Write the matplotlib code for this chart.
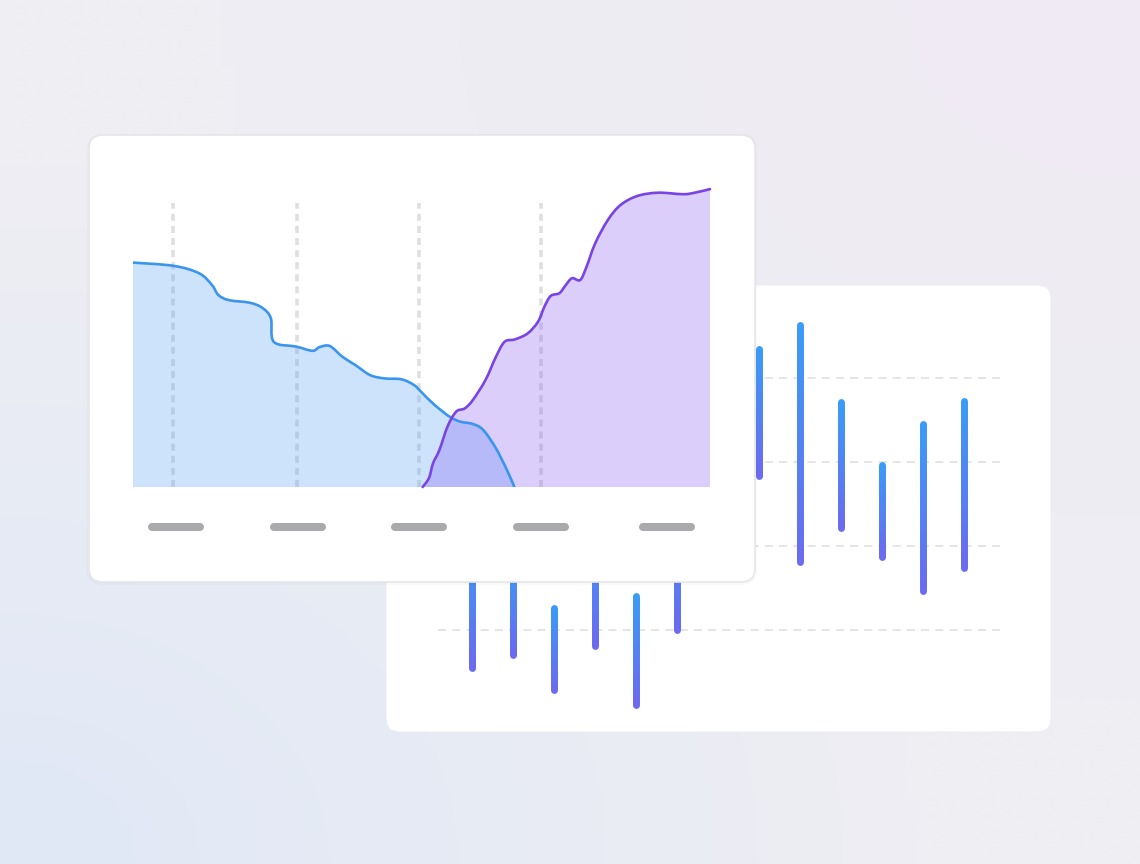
"""Two overlapping dashboard cards: area chart in front, range bars behind."""
import matplotlib

matplotlib.use("Agg")
import matplotlib.pyplot as plt
import numpy as np
from matplotlib.collections import LineCollection
from matplotlib.colors import to_rgb
from matplotlib.patches import FancyBboxPatch, PathPatch
from matplotlib.path import Path

W, H = 1140, 864

# front card: two area series on a 0-100 x scale, 0-100 y scale
blue_x = [0, 7.1, 11.5, 13.7, 14.8, 16.6, 20.3, 22.5, 23.9, 24.4, 28.3, 31.1,
          32.3, 34.1, 36.3, 38.5, 41.1, 43.6, 46.5, 48.7, 50.2, 52.3, 54.9,
          56.7, 58.9, 60.7, 62.9, 64.8, 66.1]
blue_y = [74.8, 73.7, 71.2, 67.3, 64.0, 62.3, 61.4, 59.6, 56.2, 48.4, 46.8, 45.4,
          46.6, 47.0, 43.4, 40.7, 37.3, 36.2, 35.9, 34.0, 31.2, 27.3, 23.4,
          21.8, 21.0, 19.0, 12.9, 5.7, 0]
purple_x = [50.2, 51.3, 52.0, 53.1, 54.5, 56.0, 57.5, 58.9, 61.1, 62.9, 64.4,
            66.2, 68.4, 70.2, 71.3, 72.4, 73.9, 75.0, 76.1, 77.5, 78.6, 80.1,
            82.3, 84.5, 87.4, 91.0, 95.4, 97.6, 100]
purple_y = [0, 3.0, 7.9, 12.3, 20.1, 25.1, 26.2, 29.0, 35.7, 43.4, 48.4,
            49.2, 51.2, 55.1, 60.1, 63.7, 64.6, 67.3, 69.6, 69.0, 73.4, 81.2,
            89.0, 94.0, 97.0, 98.1, 97.6, 98.2, 99.3]
front_grid_x = [6.9, 28.4, 49.6, 70.7]
front_grid_top = 94.7
label_x = [7.45, 28.6, 49.5, 70.7, 92.5]

# back card: vertical range bars (low, high)
bar_low = [-13.6, -8.9, -21.4, -5.7, -26.8, 0, 25, 55, 24.3, 36.4, 26.1, 13.9, 22.1]
bar_high = [32, 25, 7.9, 39, 12.1, 46, 75, 100.4, 108.9, 81.4, 58.9, 73.6, 81.8]
back_grid_y = [0, 30, 60, 90]


def px_axes(fig, x0, y0, x1, y1, zorder):
    ax = fig.add_axes([x0 / W, 1 - y1 / H, (x1 - x0) / W, (y1 - y0) / H])
    ax.set_zorder(zorder)
    ax.axis("off")
    ax.patch.set_visible(False)
    return ax


def smooth_path(xs, ys, close=False):
    """Catmull-Rom style bezier path through the points (drawing only)."""
    p = np.column_stack([xs, ys]).astype(float)
    pad = np.vstack([p[0], p, p[-1]])
    verts, codes = [p[0]], [Path.MOVETO]
    for i in range(len(p) - 1):
        a, b, c, d = pad[i], pad[i + 1], pad[i + 2], pad[i + 3]
        verts += [b + (c - a) / 6, c - (d - b) / 6, c]
        codes += [Path.CURVE4] * 3
    if close:
        verts += [(p[-1, 0], 0), (p[0, 0], 0), p[0]]
        codes += [Path.LINETO, Path.LINETO, Path.CLOSEPOLY]
    return Path(verts, codes)


fig = plt.figure(figsize=(W / 100, H / 100), dpi=100)

# background with a soft tint
bg = px_axes(fig, 0, 0, W, H, 0)
gy, gx = np.mgrid[0:1:60j, 0:1:80j]
base = np.array(to_rgb("#eeeef3"))
tr = np.array(to_rgb("#f0eaf4"))
bl = np.array(to_rgb("#e0e8f6"))
w_tr = np.clip(1 - np.hypot(1 - gx, gy) / 0.8, 0, 1)[..., None]
w_bl = np.clip(1 - np.hypot(gx, 1 - gy) / 0.8, 0, 1)[..., None]
img = base + w_tr * (tr - base) + w_bl * (bl - base)
bg.imshow(img, extent=[0, W, H, 0], interpolation="bilinear", aspect="auto")
bg.set_xlim(0, W)
bg.set_ylim(H, 0)
bg.add_patch(FancyBboxPatch((386, 285), 665, 447, boxstyle="round,pad=0,rounding_size=14",
                            fc="white", ec="#ebebf0", lw=0.6))

# back chart
back = px_axes(fig, 438, 294, 1000, 742, 1)
back.set_xlim(-0.83, 12.88)
back.set_ylim(-40, 120)
for gyv in back_grid_y:
    back.axhline(gyv, color="#dedede", lw=1.1, ls=(0, (5.3, 4)), zorder=1)
top_c = np.array(to_rgb("#3a9cf6"))
bot_c = np.array(to_rgb("#6a6bef"))
n = 40
for i, (lo, hi) in enumerate(zip(bar_low, bar_high)):
    ys = np.linspace(hi, lo, n + 1)
    segs = [[(i, ys[k]), (i, ys[k + 1])] for k in range(n)]
    t = np.linspace(0, 1, n)[:, None]
    cols = top_c * (1 - t) + bot_c * t
    back.add_collection(LineCollection(segs, colors=cols, linewidths=5,
                                       capstyle="round", zorder=3))

# front card
card = px_axes(fig, 0, 0, W, H, 2)
card.set_xlim(0, W)
card.set_ylim(H, 0)
card.add_patch(FancyBboxPatch((87, 134), 670, 451, boxstyle="round,pad=0,rounding_size=16",
                              fc="#505070", ec="none", alpha=0.03))
card.add_patch(FancyBboxPatch((89, 135), 666, 447, boxstyle="round,pad=0,rounding_size=14",
                              fc="white", ec="#e6e6ea", lw=1.2))

# front chart
ax = px_axes(fig, 133, 187, 710, 487, 3)
ax.set_xlim(0, 100)
ax.set_ylim(0, 100)
ax.vlines(front_grid_x, 0, front_grid_top, colors="#dfdfdf", lw=2.6,
          linestyles=(0, (1.95, 1.4)), zorder=1)
ax.add_patch(PathPatch(smooth_path(blue_x, blue_y, close=True), fc="#3b96f3",
                       alpha=0.26, lw=0, zorder=2))
ax.add_patch(PathPatch(smooth_path(purple_x, purple_y, close=True), fc="#7c4df0",
                       alpha=0.27, lw=0, zorder=2))
ax.add_patch(PathPatch(smooth_path(blue_x, blue_y), fc="none", ec="#3a95ee",
                       lw=1.9, joinstyle="round", capstyle="round", zorder=4))
ax.add_patch(PathPatch(smooth_path(purple_x, purple_y), fc="none", ec="#7944e4",
                       lw=1.9, joinstyle="round", capstyle="round", zorder=4,
                       clip_on=False))
for cx in label_x:
    ax.plot([cx - 4.16, cx + 4.16], [-13.3, -13.3], color="#aaaaac", lw=5.8,
            solid_capstyle="round", clip_on=False)

fig.savefig("out.png", dpi=100)
